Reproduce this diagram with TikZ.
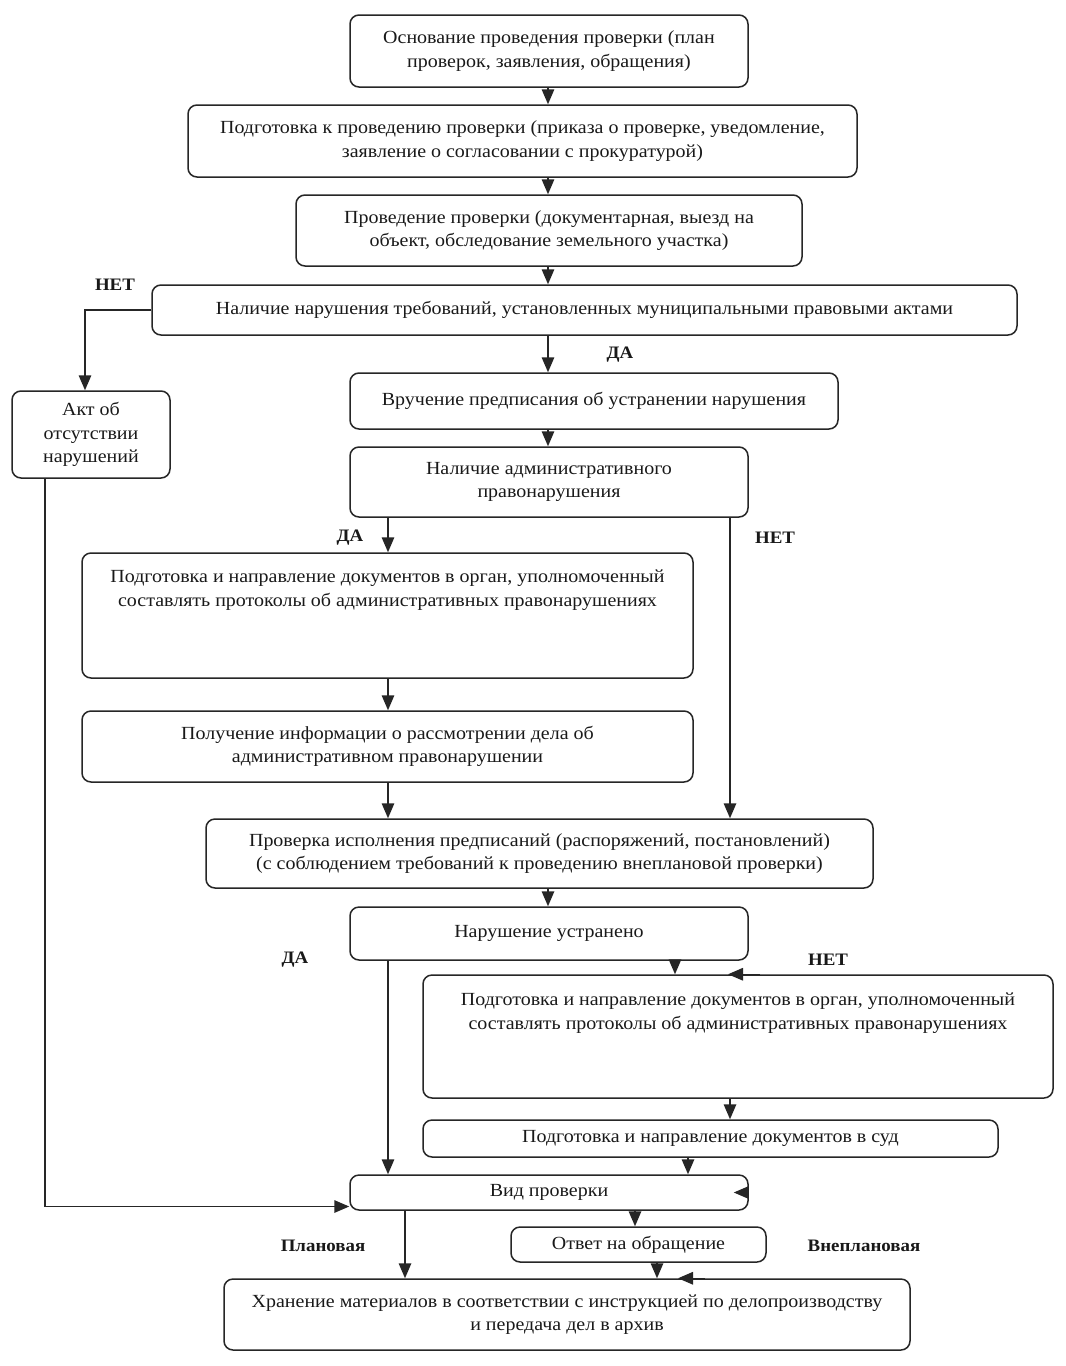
\documentclass[tikz,border=0pt]{standalone}
\usepackage{fontspec}
\setmainfont[FakeStretch=1.08]{Liberation Serif}
\usetikzlibrary{arrows.meta}
\begin{document}
\begin{tikzpicture}[x=1pt,y=-1pt,
  box/.style={draw=black!85, line width=1.5pt, rounded corners=9pt, align=center, inner sep=0pt,
    font=\fontsize{18.5}{23.5}\selectfont, text=black!90},
  txt/.style={align=center, inner sep=0pt, font=\fontsize{18.5}{23.5}\selectfont, text=black!90},
  lab/.style={inner sep=0pt, font=\fontsize{17.5}{20}\selectfont\bfseries, text=black!90},
  arr/.style={draw=black!85, line width=1.5pt, -{Triangle[length=15pt,width=12.5pt]}},
  ln/.style={draw=black!85, line width=1.5pt}]
\useasboundingbox (0,0) rectangle (1066,1366);
\fill[white] (0,0) rectangle (1066,1366);

% x positions
\coordinate (X45) at (45,0);
\coordinate (X85) at (85,0);
\coordinate (X388) at (388,0);
\coordinate (X405) at (405,0);
\coordinate (X548) at (548,0);
\coordinate (X635) at (635,0);
\coordinate (X657) at (657,0);
\coordinate (X675) at (675,0);
\coordinate (X688) at (688,0);
\coordinate (X730) at (730,0);
\coordinate (X728) at (728,0);
\coordinate (X760) at (760,0);
\coordinate (X678) at (678,0);
\coordinate (X705) at (705,0);

\node[box, minimum width=398, minimum height=72] (b1) at (549,51)
  {Основание проведения проверки (план\\проверок, заявления, обращения)};
\node[box, minimum width=669, minimum height=72] (b2) at (522.5,141)
  {Подготовка к проведению проверки (приказа о проверке, уведомление,\\заявление о согласовании с прокуратурой)};
\node[box, minimum width=506, minimum height=71] (b3) at (549,230.5)
  {Проведение проверки (документарная, выезд на\\объект, обследование земельного участка)};
\node[box, minimum width=865, minimum height=50] (b4) at (584.5,310)
  {Наличие нарушения требований, установленных муниципальными правовыми актами};
\node[box, minimum width=488, minimum height=56] (b5) at (594,401)
  {Вручение предписания об устранении нарушения};
\node[box, minimum width=158, minimum height=87] (b6) at (91,434.5)
  {Акт об\\отсутствии\\нарушений};
\node[box, minimum width=398, minimum height=70] (b7) at (549,482)
  {Наличие административного\\правонарушения};
\node[box, minimum width=611, minimum height=125] (b8) at (387.5,615.5) {};
\node[txt] (t8) at (387.5,590)
  {Подготовка и направление документов в орган, уполномоченный\\составлять протоколы об административных правонарушениях};
\node[box, minimum width=611, minimum height=71] (b9) at (387.5,746.5)
  {Получение информации о рассмотрении дела об\\административном правонарушении};
\node[box, minimum width=667, minimum height=69] (b10) at (539.5,853.5)
  {Проверка исполнения предписаний (распоряжений, постановлений)\\(с соблюдением требований к проведению внеплановой проверки)};
\node[box, minimum width=398, minimum height=53] (b11) at (549,933.5)
  {Нарушение устранено};
\node[box, minimum width=630, minimum height=123] (b12) at (738,1036.5) {};
\node[txt] (t12) at (738,1013)
  {Подготовка и направление документов в орган, уполномоченный\\составлять протоколы об административных правонарушениях};
\node[box, minimum width=575, minimum height=37] (b13) at (710.5,1138.5)
  {Подготовка и направление документов в суд};
\node[box, minimum width=398, minimum height=35] (b14) at (549,1192.5)
  {Вид проверки};
\node[box, minimum width=255, minimum height=35] (b15) at (638.5,1244.5)
  {Ответ на обращение};
\node[box, minimum width=686, minimum height=71] (b16) at (567,1314.5)
  {Хранение материалов в соответствии с инструкцией по делопроизводству\\и передача дел в архив};

% labels
\node[lab] (l1) at (115,285) {НЕТ};
\node[lab] (l2) at (620,355) {ДА};
\node[lab] (l3) at (350,538) {ДА};
\node[lab] (l4) at (775,538) {НЕТ};
\node[lab] (l5) at (295,960) {ДА};
\node[lab] (l6) at (828,960) {НЕТ};
\node[lab] (l7) at (323,1246) {Плановая};
\node[lab] (l8) at (864,1246) {Внеплановая};

% connectors
\draw[arr] (b1.south -| X548) -- (b2.north -| X548);
\draw[arr] (b2.south -| X548) -- (b3.north -| X548);
\draw[arr] (b3.south -| X548) -- (b4.north -| X548);
\draw[arr] (b4.south -| X548) -- (b5.north -| X548);
\draw[arr] (b4.west) -| (b6.north -| X85);
\draw[arr] (b5.south -| X548) -- (b7.north -| X548);
\draw[arr] (b7.south -| X388) -- (b8.north -| X388);
\draw[arr] (b7.south -| X730) -- (b10.north -| X730);
\draw[arr] (b8.south -| X388) -- (b9.north -| X388);
\draw[arr] (b9.south -| X388) -- (b10.north -| X388);
\draw[arr] (b10.south -| X548) -- (b11.north -| X548);
\draw[arr] (b11.south -| X675) -- (b12.north -| X675);
\draw[arr] (b11.south -| X388) -- (b14.north -| X388);
\draw[arr] (b12.south -| X730) -- (b13.north -| X730);
\draw[arr] (b13.south -| X688) -- (b14.north -| X688);
\draw[arr] (b6.south -| X45) |- ([yshift=-14pt]b14.west);
\draw[arr] (b14.south -| X635) -- (b15.north -| X635);
\draw[arr] (b14.south -| X405) -- (b16.north -| X405);
\draw[arr] (b15.south -| X657) -- (b16.north -| X657);
% stray arrowheads on box edges
\draw[arr] (b12.north -| X760) -- (b12.north -| X728);
\draw[arr] (b16.north -| X705) -- (b16.north -| X678);
\draw[arr] (b14.east) -- ++(-15,0);
\end{tikzpicture}
\end{document}
